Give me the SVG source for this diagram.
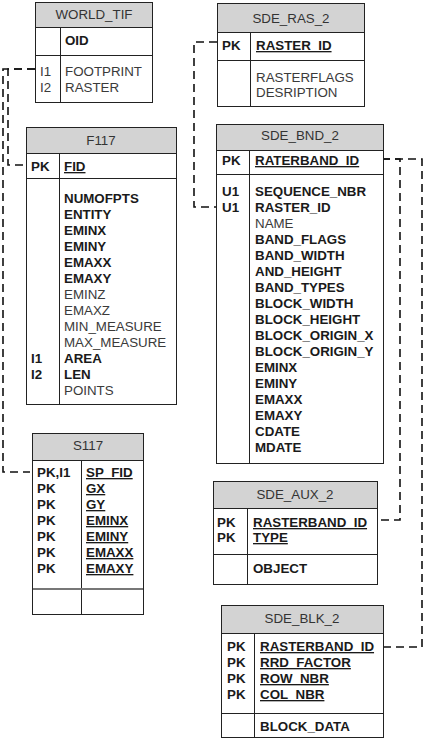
<svg xmlns="http://www.w3.org/2000/svg" width="425" height="741" viewBox="0 0 425 741">
<style>
text{font-family:"Liberation Sans",Arial,sans-serif;font-size:13.33px;fill:#1a1a1a}
.h{fill:#333;text-anchor:middle}
.b{font-weight:bold}
.n{fill:#3a3a3a}
.u{text-decoration:underline}
.box{fill:#fff;stroke:#222;stroke-width:1}
.hd{fill:#d3d3d3;stroke:#222;stroke-width:1}
.ln{stroke:#222;stroke-width:1;fill:none}
.sep2{stroke:#777;stroke-width:2;fill:none}
.c{fill:none;stroke:#111;stroke-width:1.6;stroke-dasharray:8,5}
</style>
<rect width="425" height="741" fill="#fff"/>
<g id="connectors">
<path class="c" d="M35,69 H8 V165 H26"/>
<path class="c" d="M35,69 H3 V472 H30"/>
<path class="c" d="M217,42 H194 V207 H216"/>
<path class="c" d="M369,159 H400 V520 H377"/>
<path class="c" d="M369,159 H422 V647 H378"/>
</g>
<g id="WORLD_TIF">
<rect class="box" x="35.5" y="2.5" width="117" height="100"/>
<rect class="hd" x="35.5" y="2.5" width="117" height="25"/>
<path class="ln" d="M60.5,27.5 V102.5 M35.5,55.5 H152.5"/>
<text class="h" x="94" y="19">WORLD_TIF</text>
<text class="b" x="65" y="45">OID</text>
<text class="n" x="40" y="76">I1</text>
<text class="n" x="40" y="92">I2</text>
<text class="n" x="65" y="76">FOOTPRINT</text>
<text class="n" x="65" y="92">RASTER</text>
</g>
<g id="F117">
<rect class="box" x="26.5" y="127.5" width="150" height="277"/>
<rect class="hd" x="26.5" y="127.5" width="150" height="26"/>
<path class="ln" d="M59.5,153.5 V404.5 M26.5,178.5 H176.5"/>
<text class="h" x="101" y="145">F117</text>
<text class="b" x="31" y="171">PK</text>
<text class="b u" x="64" y="171">FID</text>
<text class="b" x="64" y="203">NUMOFPTS</text>
<text class="b" x="64" y="219">ENTITY</text>
<text class="b" x="64" y="235">EMINX</text>
<text class="b" x="64" y="251">EMINY</text>
<text class="b" x="64" y="267">EMAXX</text>
<text class="b" x="64" y="283">EMAXY</text>
<text class="n" x="64" y="299">EMINZ</text>
<text class="n" x="64" y="315">EMAXZ</text>
<text class="n" x="64" y="331">MIN_MEASURE</text>
<text class="n" x="64" y="347">MAX_MEASURE</text>
<text class="b" x="31" y="363">I1</text>
<text class="b" x="31" y="379">I2</text>
<text class="b" x="64" y="363">AREA</text>
<text class="b" x="64" y="379">LEN</text>
<text class="n" x="64" y="395">POINTS</text>
</g>
<g id="SDE_RAS_2">
<rect class="box" x="217.5" y="3.5" width="147" height="103"/>
<rect class="hd" x="217.5" y="3.5" width="147" height="29"/>
<path class="ln" d="M250.5,32.5 V106.5 M217.5,60.5 H364.5"/>
<text class="h" x="291" y="23">SDE_RAS_2</text>
<text class="b" x="222" y="50">PK</text>
<text class="b u" x="256" y="50">RASTER_ID</text>
<text class="n" x="256" y="82">RASTERFLAGS</text>
<text class="n" x="256" y="97">DESRIPTION</text>
</g>
<g id="SDE_BND_2">
<rect class="box" x="216.5" y="124.5" width="167" height="339"/>
<rect class="hd" x="216.5" y="124.5" width="167" height="26"/>
<path class="ln" d="M249.5,150.5 V463.5 M216.5,174.5 H383.5"/>
<text class="h" x="300" y="140">SDE_BND_2</text>
<text class="b" x="222" y="165">PK</text>
<text class="b u" x="255" y="165">RATERBAND_ID</text>
<text class="b" x="222" y="196">U1</text>
<text class="b" x="222" y="212">U1</text>
<text class="b" x="255" y="196">SEQUENCE_NBR</text>
<text class="b" x="255" y="212">RASTER_ID</text>
<text class="n" x="255" y="228">NAME</text>
<text class="b" x="255" y="244">BAND_FLAGS</text>
<text class="b" x="255" y="260">BAND_WIDTH</text>
<text class="b" x="255" y="276">AND_HEIGHT</text>
<text class="b" x="255" y="292">BAND_TYPES</text>
<text class="b" x="255" y="308">BLOCK_WIDTH</text>
<text class="b" x="255" y="324">BLOCK_HEIGHT</text>
<text class="b" x="255" y="340">BLOCK_ORIGIN_X</text>
<text class="b" x="255" y="356">BLOCK_ORIGIN_Y</text>
<text class="b" x="255" y="372">EMINX</text>
<text class="b" x="255" y="388">EMINY</text>
<text class="b" x="255" y="404">EMAXX</text>
<text class="b" x="255" y="420">EMAXY</text>
<text class="b" x="255" y="436">CDATE</text>
<text class="b" x="255" y="452">MDATE</text>
</g>
<g id="S117">
<rect class="box" x="32.5" y="433.5" width="111" height="181"/>
<rect class="hd" x="32.5" y="433.5" width="111" height="27"/>
<path class="ln" d="M81.5,460.5 V614.5"/>
<path class="sep2" d="M33,589 H143"/>
<text class="h" x="88" y="450">S117</text>
<text class="b" x="37" y="477">PK,I1</text>
<text class="b" x="37" y="493">PK</text>
<text class="b" x="37" y="509">PK</text>
<text class="b" x="37" y="525">PK</text>
<text class="b" x="37" y="541">PK</text>
<text class="b" x="37" y="557">PK</text>
<text class="b" x="37" y="573">PK</text>
<text class="b u" x="86" y="477">SP_FID</text>
<text class="b u" x="86" y="493">GX</text>
<text class="b u" x="86" y="509">GY</text>
<text class="b u" x="86" y="525">EMINX</text>
<text class="b u" x="86" y="541">EMINY</text>
<text class="b u" x="86" y="557">EMAXX</text>
<text class="b u" x="86" y="573">EMAXY</text>
</g>
<g id="SDE_AUX_2">
<rect class="box" x="213.5" y="481.5" width="164" height="103"/>
<rect class="hd" x="213.5" y="481.5" width="164" height="27"/>
<path class="ln" d="M247.5,508.5 V584.5 M213.5,554.5 H377.5"/>
<text class="h" x="295" y="499">SDE_AUX_2</text>
<text class="b" x="217" y="527">PK</text>
<text class="b" x="217" y="542">PK</text>
<text class="b u" x="253" y="527">RASTERBAND_ID</text>
<text class="b u" x="253" y="542">TYPE</text>
<text class="b" x="253" y="573">OBJECT</text>
</g>
<g id="SDE_BLK_2">
<rect class="box" x="221.5" y="605.5" width="162" height="132"/>
<rect class="hd" x="221.5" y="605.5" width="162" height="28"/>
<path class="ln" d="M254.5,633.5 V737.5 M221.5,713.5 H383.5"/>
<text class="h" x="302" y="623">SDE_BLK_2</text>
<text class="b" x="227" y="651">PK</text>
<text class="b" x="227" y="667">PK</text>
<text class="b" x="227" y="683">PK</text>
<text class="b" x="227" y="699">PK</text>
<text class="b u" x="260" y="651">RASTERBAND_ID</text>
<text class="b u" x="260" y="667">RRD_FACTOR</text>
<text class="b u" x="260" y="683">ROW_NBR</text>
<text class="b u" x="260" y="699">COL_NBR</text>
<text class="b" x="260" y="731">BLOCK_DATA</text>
</g>
</svg>
